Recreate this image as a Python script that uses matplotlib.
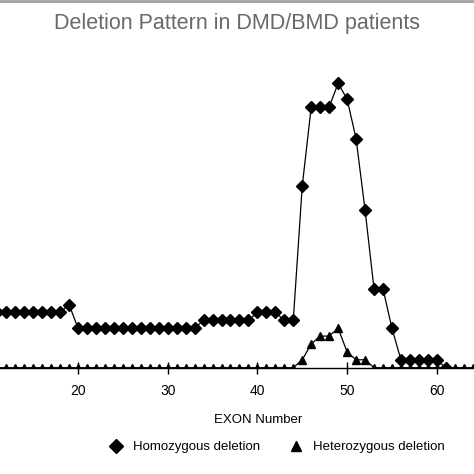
import numpy as np
import matplotlib
matplotlib.use("Agg")
import matplotlib.pyplot as plt
from matplotlib.lines import Line2D

plt.rcParams['font.family'] = ['Liberation Sans', 'DejaVu Sans']

# exon numbers and number of patients with a deletion in each exon
homo_exons = list(range(11, 62))
homo_counts = ([7] * 8 + [8] + [5] * 14 + [6] * 6 + [7] * 3 + [6] * 2
               + [23, 33, 33, 33, 36, 34, 29, 20, 10, 10, 5, 1, 1, 1, 1, 1, 0])

hetero_exons = list(range(11, 66))
hetero_counts = [0] * 34 + [1, 3, 4, 4, 5, 2, 1, 1] + [0] * 13

xticks = [20, 30, 40, 50, 60]

fig = plt.figure(figsize=(4.74, 4.74), dpi=100)
ax = fig.add_axes([0, (474 - 367.7) / 474, 1, 327.7 / 474])

ax.plot(homo_exons, homo_counts, color='black', lw=0.9, marker='D',
        markersize=6.5, zorder=3)
ax.plot(hetero_exons, hetero_counts, color='black', lw=0.9, marker='^',
        markersize=6, zorder=4)

ax.set_xlim(11.3, 64.15)
ax.set_ylim(0, 327.7 / 7.9)

for s in ['left', 'top', 'right']:
    ax.spines[s].set_visible(False)
ax.spines['bottom'].set_linewidth(1.0)
ax.set_yticks([])
ax.set_xticks(xticks)
ax.tick_params(axis='x', direction='inout', length=9, width=1.0,
               labelsize=10, pad=7)

fig.text(0.5, 0.951, 'Deletion Pattern in DMD/BMD patients',
         ha='center', va='center', fontsize=15.5, color='#666a6a')
fig.text(258 / 474, 1 - 420 / 474, 'EXON Number', ha='center', va='center',
         fontsize=9.5)

handles = [
    Line2D([], [], ls='none', marker='D', color='black', markersize=7.5),
    Line2D([], [], ls='none', marker='^', color='black', markersize=7.5),
]
fig.legend(handles, ['Homozygous deletion', 'Heterozygous deletion'],
           loc='center', bbox_to_anchor=(277 / 474, 1 - 447 / 474), ncol=2,
           frameon=False, fontsize=9.5, handlelength=1.0, handletextpad=0.8,
           columnspacing=2.2)

fig.add_artist(Line2D([0, 1], [1 - 1 / 474, 1 - 1 / 474], color='#a0a0a0',
                      lw=2.0, transform=fig.transFigure))

fig.savefig('out.png', dpi=100)
